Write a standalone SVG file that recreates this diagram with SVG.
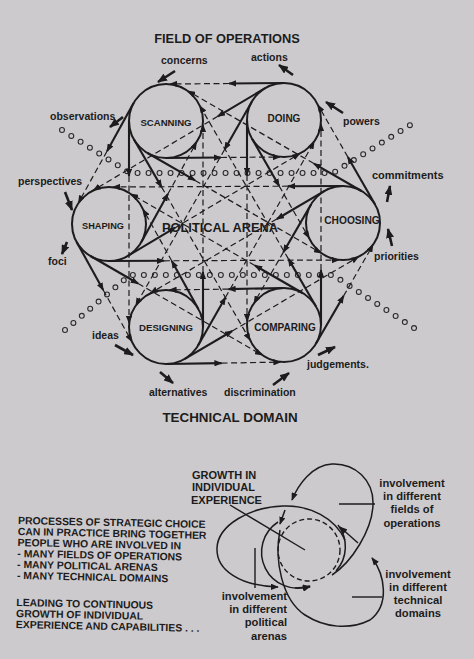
<svg xmlns="http://www.w3.org/2000/svg" width="474" height="659" viewBox="0 0 474 659">
<defs>
<marker id="a" viewBox="0 0 10 8" refX="9" refY="4" markerWidth="8" markerHeight="6.4" markerUnits="userSpaceOnUse" orient="auto"><path d="M0,0L10,4L0,8z" fill="#1c1c1c"/></marker>
<marker id="b" viewBox="0 0 10 8" refX="9" refY="4" markerWidth="10" markerHeight="8" markerUnits="userSpaceOnUse" orient="auto"><path d="M0,0L10,4L0,8z" fill="#1c1c1c"/></marker>
<style>
.s{stroke:#1c1c1c;stroke-width:2.1;fill:none;marker-end:url(#a)}
.d{stroke:#1c1c1c;stroke-width:1.2;fill:none;stroke-dasharray:6 3.5;marker-end:url(#a)}
.c{fill:none;stroke:#1c1c1c;stroke-width:2}
.r1{fill:none;stroke:#2a2a2a;stroke-width:6;stroke-dasharray:0 11;stroke-linecap:round}
.r2{fill:none;stroke:#cdcacd;stroke-width:3.8;stroke-dasharray:0 11;stroke-linecap:round}
.la{stroke:#1c1c1c;stroke-width:2.6;fill:none;marker-end:url(#b)}
.ln{stroke:#1c1c1c;stroke-width:1.4;fill:none}
.lo{stroke:#1c1c1c;stroke-width:1.5;fill:none}
.lor{stroke:#1c1c1c;stroke-width:1.5;fill:none;marker-end:url(#a)}
text{font-family:"Liberation Sans",Arial,sans-serif;font-weight:bold;fill:#1c1c1c}
.n{font-size:10px;text-anchor:middle}
.l{font-size:10.5px}
.h{font-size:12.8px}
.t{font-size:10.4px}
.q{font-size:11.2px;text-anchor:middle}
</style>
</defs>
<rect width="474" height="659" fill="#cdcacd"/>

<g id="boundaries">
<path class="r1" d="M62,130 L130,173 L333,173 L415,122"/>
<path class="r2" d="M62,130 L130,173 L333,173 L415,122"/>
<path class="r1" d="M65,330 L130,275 L333,275 L417,330"/>
<path class="r2" d="M65,330 L130,275 L333,275 L417,330"/>
</g>

<g id="connectors">
<path class="s" d="M166,158 L221,157.5"/><path class="d" d="M221,157.5 L280,157"/>
<path class="s" d="M284,83 L229,83.5"/><path class="d" d="M229,83.5 L170,84"/>
<path class="s" d="M133.6,103.1 L107,151.2"/><path class="d" d="M107,151.2 L78.5,202.6"/>
<path class="s" d="M141.4,241.9 L168,193.8"/><path class="d" d="M168,193.8 L196.5,142.4"/>
<path class="s" d="M147.5,153 L195.1,180.4"/><path class="d" d="M195.1,180.4 L321,253"/>
<path class="s" d="M361.5,191 L313.9,163.6"/><path class="d" d="M313.9,163.6 L188,91"/>
<path class="s" d="M129,121 L129,176"/><path class="d" d="M129,176 L129,323"/>
<path class="s" d="M203,327 L203,272"/><path class="d" d="M203,272 L203,125"/>
<path class="s" d="M134,139.5 L161.6,187.1"/><path class="d" d="M161.6,187.1 L250,340"/>
<path class="s" d="M316,306.5 L288.4,258.9"/><path class="d" d="M288.4,258.9 L200,106"/>
<path class="s" d="M265.1,88.2 L217.8,116.3"/><path class="d" d="M217.8,116.3 L93.5,190.2"/>
<path class="s" d="M127.9,255.8 L175.2,227.7"/><path class="d" d="M175.2,227.7 L299.5,153.8"/>
<path class="s" d="M251.9,138.4 L279.2,186.1"/><path class="d" d="M279.2,186.1 L308.9,237.9"/>
<path class="s" d="M375.1,204.6 L347.8,156.9"/><path class="d" d="M347.8,156.9 L318.1,105.1"/>
<path class="s" d="M251.8,101.7 L224.6,149.5"/><path class="d" d="M224.6,149.5 L135.8,305.2"/>
<path class="s" d="M198.2,345.3 L225.4,297.5"/><path class="d" d="M225.4,297.5 L314.2,141.8"/>
<path class="s" d="M247,120 L247,175"/><path class="d" d="M247,175 L247,321"/>
<path class="s" d="M321,325 L321,270"/><path class="d" d="M321,270 L321,124"/>
<path class="s" d="M109,261 L164,260.8"/><path class="d" d="M164,260.8 L339,260"/>
<path class="s" d="M343,186 L288,186.2"/><path class="d" d="M288,186.2 L113,187"/>
<path class="s" d="M76.6,241.9 L103.2,290"/><path class="d" d="M103.2,290 L131.7,341.4"/>
<path class="s" d="M198.4,309.1 L171.8,261"/><path class="d" d="M171.8,261 L143.3,209.6"/>
<path class="s" d="M90.5,256 L138.1,283.5"/><path class="d" d="M138.1,283.5 L262,355"/>
<path class="s" d="M302.5,293 L254.9,265.5"/><path class="d" d="M254.9,265.5 L131,194"/>
<path class="s" d="M324.2,191.1 L276.8,219"/><path class="d" d="M276.8,219 L150.6,293.1"/>
<path class="s" d="M184.8,358.9 L232.2,331"/><path class="d" d="M232.2,331 L358.4,256.9"/>
<path class="s" d="M311,204.5 L283.4,252.1"/><path class="d" d="M283.4,252.1 L254,303"/>
<path class="s" d="M316,343.5 L343.6,295.9"/><path class="d" d="M343.6,295.9 L373,245"/>
<path class="s" d="M166.6,364 L221.6,363.1"/><path class="d" d="M221.6,363.1 L280.6,362.1"/>
<path class="s" d="M283.4,288 L228.4,289.1"/><path class="d" d="M228.4,289.1 L169.4,289.9"/>
</g>

<g id="scanning"><circle class="c" cx="166" cy="121" r="37"/><text class="n" x="166" y="126" style="font-size:9.6px">SCANNING</text></g>
<g id="doing"><circle class="c" cx="284" cy="120" r="37"/><text class="n" x="284" y="122">DOING</text></g>
<g id="shaping"><circle class="c" cx="109" cy="224" r="37"/><text class="n" x="103" y="229" style="font-size:9.2px">SHAPING</text></g>
<g id="choosing"><circle class="c" cx="343" cy="223" r="37"/><text class="n" x="352" y="224" style="font-size:10.2px">CHOOSING</text></g>
<g id="designing"><circle class="c" cx="166" cy="327" r="37"/><text class="n" x="166" y="331" style="font-size:9.6px">DESIGNING</text></g>
<g id="comparing"><circle class="c" cx="284" cy="325" r="37"/><text class="n" x="285" y="331">COMPARING</text></g>

<g id="labels">
<text class="h" x="227" y="43" text-anchor="middle">FIELD OF OPERATIONS</text>
<text class="h" x="220" y="232" text-anchor="middle">POLITICAL ARENA</text>
<text class="h" x="230" y="422" text-anchor="middle" style="font-size:13.4px">TECHNICAL DOMAIN</text>
<text class="l" x="161" y="64">concerns</text>
<text class="l" x="251" y="61">actions</text>
<text class="l" x="50" y="120">observations</text>
<text class="l" x="343" y="125">powers</text>
<text class="l" x="18" y="185">perspectives</text>
<text class="l" x="372" y="179" style="font-size:11px">commitments</text>
<text class="l" x="48" y="265">foci</text>
<text class="l" x="374" y="260">priorities</text>
<text class="l" x="92" y="339">ideas</text>
<text class="l" x="307" y="368">judgements.</text>
<text class="l" x="149" y="396">alternatives</text>
<text class="l" x="224" y="396">discrimination</text>
</g>

<g id="label-arrows">
<path class="la" d="M175,71 L158,82"/>
<path class="la" d="M293,75 L279,65"/>
<path class="la" d="M343,113 L326,102"/>
<path class="la" d="M123,117 L110,127"/>
<path class="la" d="M65,192 L72,210"/>
<path class="la" d="M67,242 L62,254"/>
<path class="la" d="M387,202 L390,186"/>
<path class="la" d="M392,246 L388,229"/>
<path class="la" d="M115,345 L133,355"/>
<path class="la" d="M160,372 L173,383"/>
<path class="la" d="M273,385 L289,373"/>
<path class="la" d="M318,355 L335,347"/>
</g>

<g id="growth-figure">
<circle cx="309" cy="550" r="31" fill="none" stroke="#1c1c1c" stroke-width="1.4" stroke-dasharray="5 3"/>
<path class="lor" d="M278,522 A36,36 0 0 0 310,586"/>
<path class="lo" d="M336,571 A36,36 0 0 0 338,525"/>
<path class="lor" d="M332,575 C352,562 372,530 373,505 C374,480 355,463 332,464 C312,465 298,485 292,500"/>
<path class="lor" d="M345,540 C335,518 310,505 283,506 C250,507 218,525 217,548 C216,570 240,586 278,587"/>
<path class="lor" d="M280,530 C274,560 282,600 305,615 C325,628 350,630 370,620 C390,605 385,575 372,558"/>
<path class="lor" d="M285,510 L280,524"/>
<path class="lor" d="M358,543 L340,527"/>
<path class="lor" d="M295,588 L310,587"/>
<path class="ln" d="M230,505 L305,550"/>
<path class="ln" d="M339,504 L375,504"/>
<path class="ln" d="M352,597 L382,597"/>
<path class="ln" d="M255,548 L255,588"/>
<text class="t" x="192" y="479" style="font-size:11px">GROWTH IN</text>
<text class="t" x="192" y="491" style="font-size:11px">INDIVIDUAL</text>
<text class="t" x="191" y="504" style="font-size:11px">EXPERIENCE</text>
<text class="q" x="412" y="487">involvement</text>
<text class="q" x="412" y="500">in different</text>
<text class="q" x="412" y="513">fields of</text>
<text class="q" x="412" y="527">operations</text>
<text class="q" x="418" y="578">involvement</text>
<text class="q" x="418" y="591">in different</text>
<text class="q" x="418" y="604">technical</text>
<text class="q" x="418" y="617">domains</text>
<text class="q" x="287" y="600" style="text-anchor:end">involvement</text>
<text class="q" x="287" y="613" style="text-anchor:end">in different</text>
<text class="q" x="287" y="626" style="text-anchor:end">political</text>
<text class="q" x="287" y="640" style="text-anchor:end">arenas</text>
</g>

<g id="caption" transform="rotate(1.2 18 526)">
<text class="t" x="18" y="524">PROCESSES OF STRATEGIC CHOICE</text>
<text class="t" x="18" y="535">CAN IN PRACTICE BRING TOGETHER</text>
<text class="t" x="18" y="546">PEOPLE WHO ARE INVOLVED IN</text>
<text class="t" x="18" y="557">- MANY FIELDS OF OPERATIONS</text>
<text class="t" x="18" y="568">- MANY POLITICAL ARENAS</text>
<text class="t" x="18" y="579">- MANY TECHNICAL DOMAINS</text>
<text class="t" x="18" y="606">LEADING TO CONTINUOUS</text>
<text class="t" x="18" y="617">GROWTH OF INDIVIDUAL</text>
<text class="t" x="18" y="628">EXPERIENCE AND CAPABILITIES . . .</text>
</g>
</svg>
